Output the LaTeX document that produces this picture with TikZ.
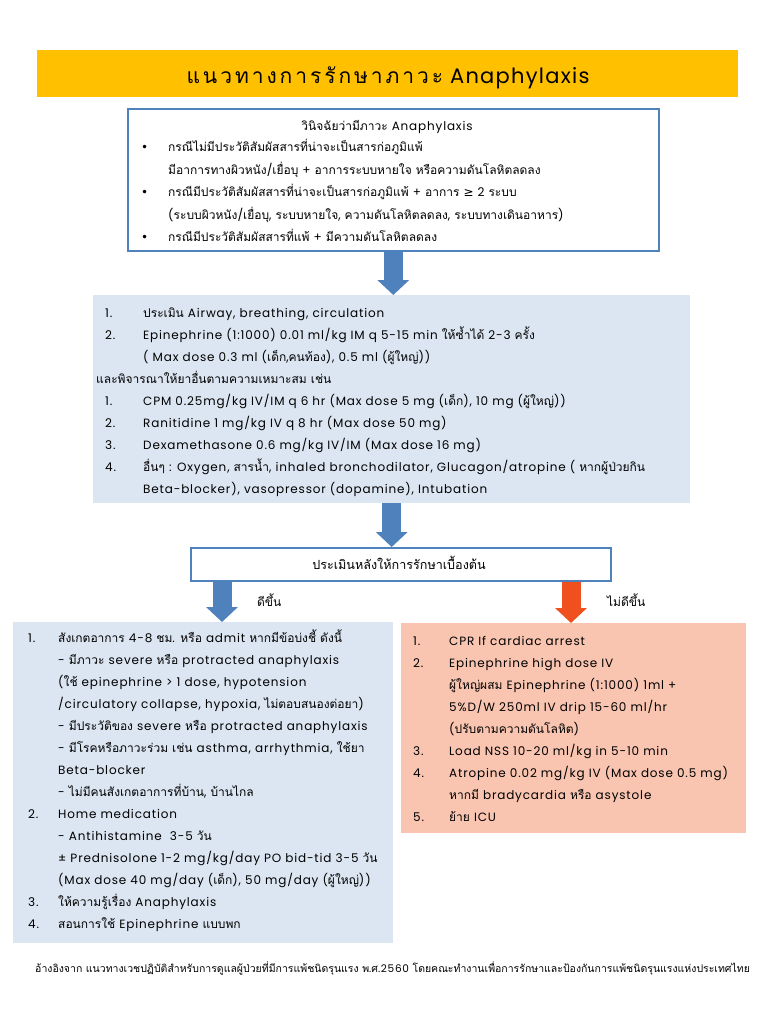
\documentclass[tikz,border=0pt]{standalone}
\usepackage{fontspec}
\setmainfont{Poppins}[LetterSpace=7]
\newfontfamily\latinfont{Poppins}[LetterSpace=7]
\newfontfamily\thaifont[Script=Thai]{Loma}
\newfontfamily\thaititle[Script=Thai,LetterSpace=14]{Loma}
\newfontfamily\latintitle{Poppins}[LetterSpace=6]
\newfontfamily\symfont{DejaVu Sans}
\usetikzlibrary{arrows.meta,positioning}

% Thai letters switch to Loma, everything else stays in Poppins
\XeTeXinterchartokenstate=1
\newXeTeXintercharclass\thaichars
\count255="0E01
\loop\ifnum\count255<"0E5C
  \XeTeXcharclass\count255=\thaichars
  \advance\count255 by 1
\repeat
\def\tothai{\thaifont}
\def\tolatin{\latinfont}
\XeTeXinterchartoks 0 \thaichars = {\tothai}
\XeTeXinterchartoks 4095 \thaichars = {\tothai}
\XeTeXinterchartoks \thaichars 0 = {\tolatin}
\XeTeXinterchartoks \thaichars 4095 = {\tolatin}

\definecolor{titleyellow}{HTML}{FFC000}
\definecolor{lineblue}{HTML}{4F81BD}
\definecolor{paleblue}{HTML}{DCE6F2}
\definecolor{salmon}{HTML}{F9C5B1}
\definecolor{redorange}{HTML}{F0501E}

\newcommand{\bul}{{\symfont •}}

\begin{document}
\begin{tikzpicture}[x=1pt,y=-1pt,
    frame/.style={draw=lineblue,line width=1.6pt,fill=white,inner sep=0pt,anchor=north west},
    panel/.style={inner sep=0pt,anchor=north west},
    body/.style={inner sep=0pt,anchor=base west,font=\fontsize{12}{22}\selectfont},
    fatarrow/.style={line width=19pt,-{Triangle[width=31pt,length=15pt]}}]
  \useasboundingbox[fill=white] (0,0) rectangle (768,1024);

  % title bar
  \node[panel,fill=titleyellow,minimum width=701pt,minimum height=47pt] (head) at (37,50) {};
  \node[anchor=base,inner sep=0pt,font=\fontsize{21}{24}\selectfont\def\tothai{\thaititle}\def\tolatin{\latintitle}\latintitle]
    (headtxt) at (388,84) {แนวทางการรักษาภาวะ Anaphylaxis};

  % diagnosis
  \node[frame,minimum width=531pt,minimum height=142pt] (diag) at (127,108) {};
  \node[body,anchor=base] (diagtitle) at (387,131) {วินิจฉัยว่ามีภาวะ Anaphylaxis};
  \node[body,font=\fontsize{12}{22.5}\selectfont] (diaglist) at (141,152) {\begin{tabular}[t]{@{}p{27pt}@{}l@{}}
    \bul & กรณีไม่มีประวัติสัมผัสสารที่น่าจะเป็นสารก่อภูมิแพ้\\
         & มีอาการทางผิวหนัง/เยื่อบุ + อาการระบบหายใจ หรือความดันโลหิตลดลง\\
    \bul & กรณีมีประวัติสัมผัสสารที่น่าจะเป็นสารก่อภูมิแพ้ + อาการ {\symfont ≥} 2 ระบบ\\
         & (ระบบผิวหนัง/เยื่อบุ, ระบบหายใจ, ความดันโลหิตลดลง, ระบบทางเดินอาหาร)\\
    \bul & กรณีมีประวัติสัมผัสสารที่แพ้ + มีความดันโลหิตลดลง
  \end{tabular}};

  % first treatment
  \node[panel,fill=paleblue,minimum width=597pt,minimum height=208pt] (care) at (93,295) {};
  \node[body] (carelist) at (105,317) {\begin{tabular}[t]{@{}p{38pt}@{}l@{}}
    1. & ประเมิน Airway, breathing, circulation\\
    2. & Epinephrine (1:1000) 0.01 ml/kg IM q 5-15 min ให้ซ้ำได้ 2-3 ครั้ง\\
       & ( Max dose 0.3 ml (เด็ก,คนท้อง), 0.5 ml (ผู้ใหญ่))\\
    \multicolumn{2}{@{}l@{}}{\hspace*{-9pt}และพิจารณาให้ยาอื่นตามความเหมาะสม เช่น}\\
    1. & CPM 0.25mg/kg IV/IM q 6 hr (Max dose 5 mg (เด็ก), 10 mg (ผู้ใหญ่))\\
    2. & Ranitidine 1 mg/kg IV q 8 hr (Max dose 50 mg)\\
    3. & Dexamethasone 0.6 mg/kg IV/IM (Max dose 16 mg)\\
    4. & อื่นๆ : Oxygen, สารน้ำ, inhaled bronchodilator, Glucagon/atropine ( หากผู้ป่วยกิน\\
       & Beta-blocker), vasopressor (dopamine), Intubation
  \end{tabular}};

  % review
  \node[frame,minimum width=420pt,minimum height=33pt] (review) at (190,547) {};
  \node[body,anchor=base,font=\fontsize{12.6}{22}\selectfont] (reviewtxt) at (399,569) {ประเมินหลังให้การรักษาเบื้องต้น};

  % outcomes
  \node[panel,fill=paleblue,minimum width=380pt,minimum height=321pt] (better) at (13,622) {};
  \node[panel,fill=salmon,minimum width=345pt,minimum height=210pt] (worse) at (401,623) {};

  \draw[fatarrow,lineblue] (diag.south) -- (diag.south |- care.north);
  \draw[fatarrow,lineblue] (care.south) -- (care.south |- review.north);
  \coordinate (lx) at (222,0);
  \coordinate (rx) at (571,0);
  \draw[fatarrow,lineblue] (review.south -| lx) -- (better.north -| lx);
  \draw[fatarrow,redorange] (review.south -| rx) -- (worse.north -| rx);
  \node[body] (uplabel) at (257,606) {ดีขึ้น};
  \node[body] (downlabel) at (607,606) {ไม่ดีขึ้น};

  \node[body] (betterlist) at (28,642) {\begin{tabular}[t]{@{}p{30pt}@{}l@{}}
    1. & สังเกตอาการ 4-8 ชม. หรือ admit หากมีข้อบ่งชี้ ดังนี้\\
       & - มีภาวะ severe หรือ protracted anaphylaxis\\
       & (ใช้ epinephrine > 1 dose, hypotension\\
       & /circulatory collapse, hypoxia, ไม่ตอบสนองต่อยา)\\
       & - มีประวัติของ severe หรือ protracted anaphylaxis\\
       & - มีโรคหรือภาวะร่วม เช่น asthma, arrhythmia, ใช้ยา\\
       & Beta-blocker\\
       & - ไม่มีคนสังเกตอาการที่บ้าน, บ้านไกล\\
    2. & Home medication\\
       & - Antihistamine~ 3-5 วัน\\
       & ± Prednisolone 1-2 mg/kg/day PO bid-tid 3-5 วัน\\
       & (Max dose 40 mg/day (เด็ก), 50 mg/day (ผู้ใหญ่))\\
    3. & ให้ความรู้เรื่อง Anaphylaxis\\
    4. & สอนการใช้ Epinephrine แบบพก
  \end{tabular}};

  \node[body] (worselist) at (413,645) {\begin{tabular}[t]{@{}p{36pt}@{}l@{}}
    1. & CPR If cardiac arrest\\
    2. & Epinephrine high dose IV\\
       & ผู้ใหญ่ผสม Epinephrine (1:1000) 1ml +\\
       & 5\%D/W 250ml IV drip 15-60 ml/hr\\
       & (ปรับตามความดันโลหิต)\\
    3. & Load NSS 10-20 ml/kg in 5-10 min\\
    4. & Atropine 0.02 mg/kg IV (Max dose 0.5 mg)\\
       & หากมี bradycardia หรือ asystole\\
    5. & ย้าย ICU
  \end{tabular}};

  % reference
  \node[body,font=\fontsize{10.5}{12}\selectfont] (source) at (35,972) {อ้างอิงจาก แนวทางเวชปฏิบัติสำหรับการดูแลผู้ป่วยที่มีการแพ้ชนิดรุนแรง พ.ศ.2560 โดยคณะทำงานเพื่อการรักษาและป้องกันการแพ้ชนิดรุนแรงแห่งประเทศไทย};
\end{tikzpicture}
\end{document}
